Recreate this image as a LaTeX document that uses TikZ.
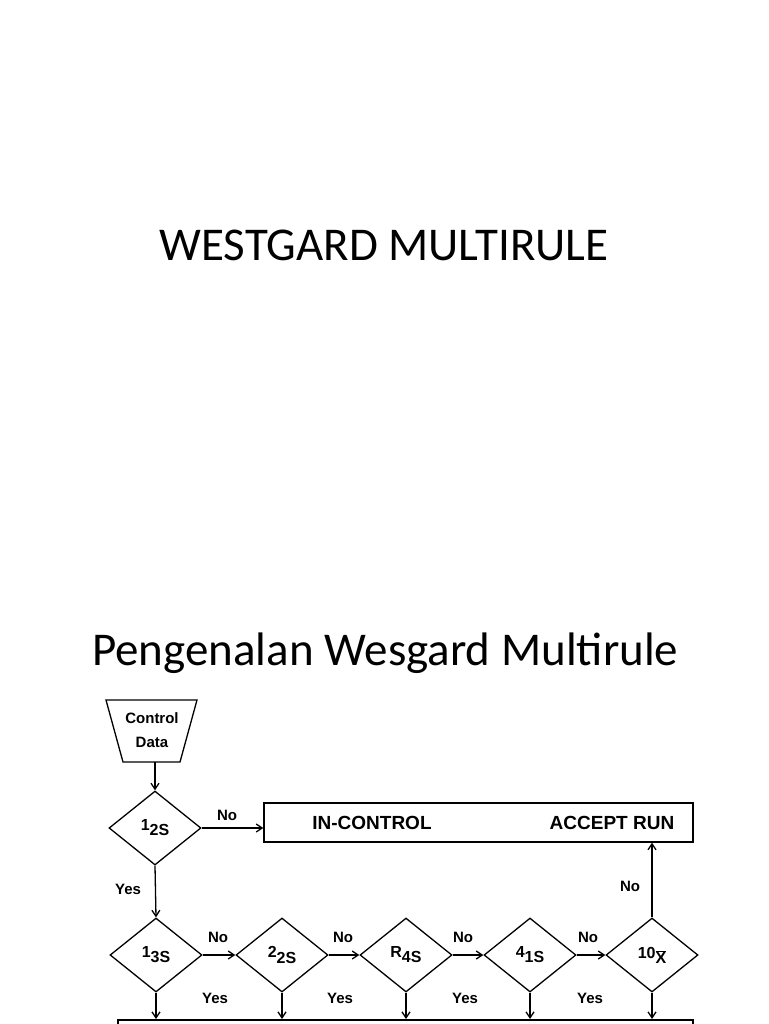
\documentclass[tikz,border=0pt]{standalone}
\usepackage{fontspec}
\setmainfont{Carlito}
\newfontfamily\diag{Liberation Sans}
\usetikzlibrary{shapes.geometric,arrows.meta}
\begin{document}
\begin{tikzpicture}[x=1pt,y=-1pt,
  dia/.style={diamond,draw,line width=1.3pt,minimum width=92pt,minimum height=74pt,inner sep=0pt,font=\diag\bfseries\fontsize{16}{16}\selectfont},
  lbl/.style={font=\diag\bfseries\fontsize{15}{15}\selectfont},
  arr/.style={-{Straight Barb[length=6pt,width=8pt]},line width=1.3pt}]
\useasboundingbox (0,0) rectangle (768,1024);
\node (title) at (384,245) {\fontsize{47}{47}\selectfont WESTGARD MULTIRULE};
\node[anchor=base west,inner sep=0] (sub) at (92,665) {\fontsize{47}{47}\selectfont Pengenalan Wesgard Multirule};
% trapezoid
\draw[line width=1.3pt] (106,700) -- (197,700) -- (180,762) -- (123,762) -- cycle;
\node[align=center,font=\diag\bfseries\fontsize{15}{24}\selectfont] (cd) at (152,730) {Control\\Data};
\coordinate (cdb) at (155,762);
\node[dia] (d1) at (155,828) {1\raisebox{-0.6ex}{2S}};
\draw[arr] (cdb) -- (d1.north);
\node[draw,line width=1.3pt,minimum width=429pt,minimum height=39pt,inner sep=0] (ic) at (478.5,822.5) {};
\node[font=\diag\bfseries\fontsize{19}{19}\selectfont] (t1) at (372,823) {IN-CONTROL};
\node[font=\diag\bfseries\fontsize{19}{19}\selectfont] (t2) at (612,823) {ACCEPT RUN};
\draw[arr] (d1.east) -- (ic.west|-d1.east);
\node[lbl] (n0) at (227,815) {No};
\node[dia] (r1) at (156,955) {1\raisebox{-0.6ex}{3S}};
\node[dia] (r2) at (282,955) {2\raisebox{-0.6ex}{2S}};
\node[dia] (r3) at (406,955) {R\raisebox{-0.6ex}{4S}};
\node[dia] (r4) at (530,955) {4\raisebox{-0.6ex}{1S}};
\node[dia] (r5) at (652,955) {10\raisebox{-0.6ex}{$\overline{\mbox{X}}$}};
\draw[arr] (d1.south) -- (r1.north);
\node[lbl] (y0) at (128,889) {Yes};
\draw[arr] (r1.east) -- (r2.west);
\draw[arr] (r2.east) -- (r3.west);
\draw[arr] (r3.east) -- (r4.west);
\draw[arr] (r4.east) -- (r5.west);
\draw[arr] (r5.north) -- (r5.north|-ic.south);
\node[lbl] (n5) at (630,886) {No};
\foreach \x/\n in {218/a,343/b,463/c,588/d}{\node[lbl] (no\n) at (\x,937) {No};}
\foreach \x/\n in {215/a,340/b,465/c,590/d}{\node[lbl] (ye\n) at (\x,998) {Yes};}
\draw[line width=1.3pt] (118,1030) -- (118,1020) -- (693,1020) -- (693,1030);
\foreach \r in {r1,r2,r3,r4,r5}{\draw[arr] (\r.south) -- (\r.south|-0,1019);}
\end{tikzpicture}
\end{document}
